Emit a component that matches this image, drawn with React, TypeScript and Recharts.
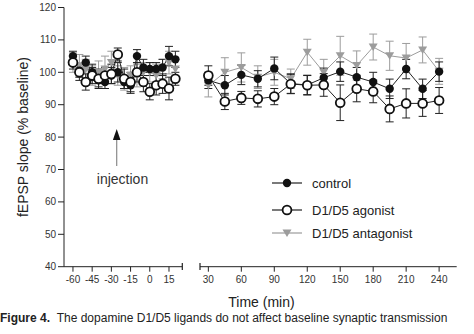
import { ComposedChart, ErrorBar, Line, XAxis, YAxis } from "recharts";

// minutes relative to injection
const preTimes = [-60, -55, -50, -45, -40, -35, -30, -25, -20, -15, -10, -5, 0, 5, 10, 15, 20];
const postTimes = [30, 45, 60, 75, 90, 105, 120, 135, 150, 165, 180, 195, 210, 225, 240];

const preTicks = [-60, -45, -30, -15, 0, 15];
const postTicks = [30, 60, 90, 120, 150, 180, 210, 240];
const yTicks = [40, 50, 60, 70, 80, 90, 100, 110, 120];

const controlPre = [105, 100.5, 103, 100, 97.5, 97, 99, 100, 97, 96, 105, 101.5, 101, 101, 101.5, 105, 104];
const controlPreErr = [1.5, 2, 2, 2.5, 2, 2, 2.5, 3, 2, 2.5, 2, 2.5, 2, 2, 2.5, 3, 2.5];
const agonistPre = [103, 100, 97, 99, 98, 99, 99.5, 105.5, 98, 97, 100, 97, 94, 96, 96.5, 95, 98];
const agonistPreErr = [2, 2.5, 2.5, 2.5, 3, 2.5, 3, 2, 3, 3, 3, 3, 2.5, 3, 3, 3.5, 2];
const antagonistPre = [103, 102, 101, 99, 100, 101, 103, 99, 98, 99, 99, 100, 100, 99, 101, 103, 101];
const antagonistPreErr = [3, 3.5, 3, 3, 3.5, 4, 3.5, 3, 3.5, 3, 3.5, 3, 3, 3.5, 3, 3.5, 3];

const controlPost = [97.5, 96, 99.2, 98, 101.2, 96.5, 96.1, 98.3, 100.2, 98.5, 97, 94.9, 101, 94.9, 100.2];
const controlPostErr = [2.5, 3, 3, 2.5, 3.5, 3, 3, 3, 3, 3, 3, 3, 3, 3, 3];
const agonistPost = [99, 91, 92.1, 91.8, 92.5, 96.4, 96, 96.1, 90.6, 94.9, 94.1, 88.7, 90.4, 90.4, 91.3];
const agonistPostErr = [3, 2.5, 2, 2.5, 2.5, 3, 3, 3.5, 5.5, 4, 3.5, 4, 4.5, 4, 4];
const antagonistPost = [95.9, 100, 101.5, 98.5, 100, 98, 106.2, 100, 105.1, 102.1, 107.8, 105.1, 104.4, 106.9, 100.3];
const antagonistPostErr = [3.5, 4.5, 4.5, 3.5, 4, 3, 4, 4, 6, 4.5, 4, 4.5, 4.5, 4, 4];

const preData = preTimes.map((t, i) => ({
  t,
  control: controlPre[i], controlErr: controlPreErr[i],
  agonist: agonistPre[i], agonistErr: agonistPreErr[i],
  antagonist: antagonistPre[i], antagonistErr: antagonistPreErr[i],
}));
const postData = postTimes.map((t, i) => ({
  t,
  control: controlPost[i], controlErr: controlPostErr[i],
  agonist: agonistPost[i], agonistErr: agonistPostErr[i],
  antagonist: antagonistPost[i], antagonistErr: antagonistPostErr[i],
}));

const font = "Arial, 'Liberation Sans', sans-serif";
const ink = "#222";
const grey = "#9c9c9c";
const tickStyle = { fill: "#333", fontSize: 10, fontFamily: font };

const filledDot = (p: any) => <circle key={`f${p.index}`} cx={p.cx} cy={p.cy} r={4.2} fill="#111" />;
const openDot = (p: any) => <circle key={`o${p.index}`} cx={p.cx} cy={p.cy} r={4.4} fill="#fff" stroke="#111" strokeWidth={1.8} />;
const triDot = (p: any) => (
  <path key={`t${p.index}`} d={`M${p.cx - 4.5},${p.cy - 3.5}L${p.cx + 4.5},${p.cy - 3.5}L${p.cx},${p.cy + 4}Z`} fill={grey} />
);

function Series() {
  return [
    <Line key="ant" dataKey="antagonist" stroke={grey} strokeWidth={1} dot={triDot} activeDot={false} isAnimationActive={false}>
      <ErrorBar dataKey="antagonistErr" width={4} stroke={grey} strokeWidth={1} direction="y" isAnimationActive={false} />
    </Line>,
    <Line key="ctl" dataKey="control" stroke={ink} strokeWidth={1} dot={filledDot} activeDot={false} isAnimationActive={false}>
      <ErrorBar dataKey="controlErr" width={4} stroke={ink} strokeWidth={1} direction="y" isAnimationActive={false} />
    </Line>,
    <Line key="ago" dataKey="agonist" stroke={ink} strokeWidth={1} dot={openDot} activeDot={false} isAnimationActive={false}>
      <ErrorBar dataKey="agonistErr" width={4} stroke={ink} strokeWidth={1} direction="y" isAnimationActive={false} />
    </Line>,
  ];
}

const legendRows = [
  { label: "control", y: 183, kind: "filled" },
  { label: "D1/D5 agonist", y: 210, kind: "open" },
  { label: "D1/D5 antagonist", y: 233, kind: "tri" },
];

export default function App() {
  return (
    <div style={{ position: "absolute", left: 0, top: 0, width: 474, height: 334, background: "#fff", overflow: "hidden", fontFamily: font }}>
      <div style={{ position: "absolute", left: 0, top: 0 }}>
        <ComposedChart width={190} height={334} data={preData} margin={{ top: 7.5, right: 7.7, bottom: 37.3, left: 0 }}>
          <XAxis dataKey="t" type="number" domain={[-67, 25.4]} ticks={preTicks} interval={0} allowDataOverflow
            height={30} tickSize={5} tickMargin={4} tick={tickStyle} stroke={ink} />
          <YAxis type="number" domain={[40, 120]} ticks={yTicks} interval={0} width={64}
            tickSize={6} tickMargin={2} tick={tickStyle} stroke={ink} />
          {Series()}
        </ComposedChart>
      </div>
      <div style={{ position: "absolute", left: 0, top: 0 }}>
        <ComposedChart width={474} height={334} data={postData} margin={{ top: 7.5, right: 17.3, bottom: 37.3, left: 200 }}>
          <XAxis dataKey="t" type="number" domain={[22.4, 256]} ticks={postTicks} interval={0} allowDataOverflow
            height={30} tickSize={5} tickMargin={4} tick={tickStyle} stroke={ink} />
          <YAxis type="number" domain={[40, 120]} hide />
          {Series()}
        </ComposedChart>
      </div>
      <svg width={474} height={334} style={{ position: "absolute", left: 0, top: 0, pointerEvents: "none" }}>
        {/* axis break caps */}
        <line x1={182.3} y1={263} x2={182.3} y2={270} stroke={ink} strokeWidth={1.2} />
        <line x1={200} y1={263} x2={200} y2={270} stroke={ink} strokeWidth={1.2} />
        {/* injection arrow */}
        <line x1={116.7} y1={139} x2={116.7} y2={166} stroke="#8a8a8a" strokeWidth={1.2} />
        <path d="M112.9,140L120.5,140L116.7,129Z" fill="#111" />
        <text x={122.5} y={184} textAnchor="middle" fontSize={14} fill="#333">injection</text>
        {/* legend */}
        {legendRows.map((r) => (
          <g key={r.label}>
            <line x1={272} y1={r.y} x2={302} y2={r.y} stroke={r.kind === "tri" ? grey : ink} strokeWidth={1.2} />
            {r.kind === "filled" && <circle cx={287} cy={r.y} r={4.2} fill="#111" />}
            {r.kind === "open" && <circle cx={287} cy={r.y} r={4.4} fill="#fff" stroke="#111" strokeWidth={1.8} />}
            {r.kind === "tri" && <path d={`M282.5,${r.y - 3.5}L291.5,${r.y - 3.5}L287,${r.y + 4}Z`} fill={grey} />}
            <text x={312} y={r.y + 4.5} fontSize={13} fill="#222">{r.label}</text>
          </g>
        ))}
        {/* axis titles */}
        <text x={261.5} y={306.5} textAnchor="middle" fontSize={14} fill="#222">Time (min)</text>
        <text x={0} y={0} transform="translate(28,137) rotate(-90)" textAnchor="middle" fontSize={14} fill="#222">fEPSP slope (% baseline)</text>
      </svg>
      <div style={{ position: "absolute", left: 0, top: 311, width: 474, whiteSpace: "nowrap", fontSize: 12, lineHeight: "14px", color: "#222" }}>
        <b>Figure 4.</b>&nbsp;&nbsp;The dopamine D1/D5 ligands do not affect baseline synaptic transmission
      </div>
    </div>
  );
}
